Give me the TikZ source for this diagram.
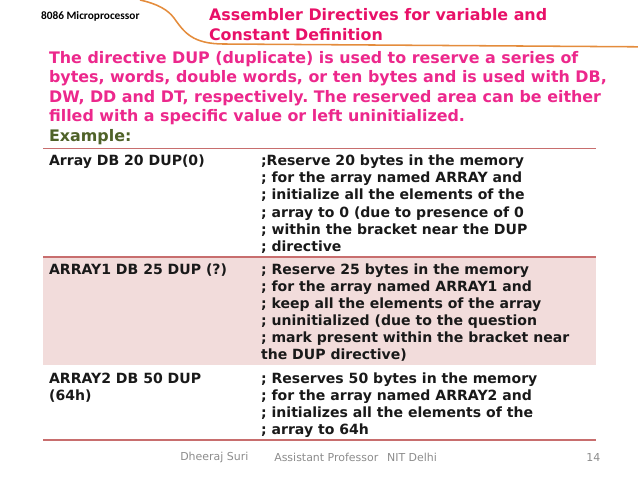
\documentclass[tikz,border=0pt]{standalone}
\usepackage{fontspec}
\setmainfont{DejaVu Sans}
\newfontfamily\logofont{Carlito}
\frenchspacing
\definecolor{titlepink}{RGB}{232,16,104}
\definecolor{bodypink}{RGB}{236,40,140}
\definecolor{examplegreen}{RGB}{79,98,40}
\definecolor{rulered}{RGB}{200,110,110}
\definecolor{bandpink}{RGB}{242,220,219}
\definecolor{curveorange}{RGB}{228,140,60}
\definecolor{footgray}{RGB}{140,140,140}
\tikzset{
  titletext/.style={anchor=north west,align=left,inner sep=0pt,text=titlepink,font=\fontsize{11.3}{14.3}\selectfont\bfseries},
  bodytext/.style={anchor=north west,align=left,inner sep=0pt,text=bodypink,font=\fontsize{11.3}{13.8}\selectfont\bfseries},
  celltext/.style={anchor=north west,align=left,inner sep=0pt,text=black!90,font=\fontsize{10}{12.15}\selectfont\bfseries},
  foottext/.style={anchor=west,inner sep=0pt,text=footgray,font=\fontsize{7.8}{10}\selectfont},
  tablerule/.style={draw=rulered,line width=1.1pt}
}
\begin{document}
\begin{tikzpicture}
\useasboundingbox (0,0) rectangle (15.95,-11.95);
% band behind the second row
\fill [bandpink] (1.08,-6.42) rectangle (14.9,-9.12);
% header curve
\draw [curveorange,line width=1.1pt] (3.5,0) .. controls (3.95,-0.1) and (4.2,-0.25) .. (4.35,-0.45) .. controls (4.6,-0.8) and (4.8,-1.1) .. (5.6,-1.1) -- (15.95,-1.17);
\node (logo) [anchor=west,inner sep=0pt,font=\logofont\fontsize{8.05}{9}\selectfont\bfseries] at (1.02,-0.4) {8086 Microprocessor};
\node (title) [titletext] at (5.22,-0.2) {Assembler Directives for variable and\\Constant Definition};
\node (intro) [bodytext] at (1.22,-1.28) {The directive DUP (duplicate) is used to reserve a series of\\bytes, words, double words, or ten bytes and is used with DB,\\DW, DD and DT, respectively. The reserved area can be either\\filled with a specific value or left uninitialized.\\\textcolor{examplegreen}{Example:}};
% table rules
\coordinate (ruleAl) at (1.08,-3.71);
\coordinate (ruleAr) at (14.9,-3.71);
\coordinate (ruleBl) at (1.08,-6.42);
\coordinate (ruleBr) at (14.9,-6.42);
\coordinate (ruleCl) at (1.08,-11);
\coordinate (ruleCr) at (14.9,-11);
\draw [tablerule] (ruleAl) -- (ruleAr);
\draw [tablerule] (ruleBl) -- (ruleBr);
\draw [tablerule] (ruleCl) -- (ruleCr);
% first row
\node (nameA) [celltext] at (1.22,-3.87) {Array DB 20 DUP(0)};
\node (noteA) [celltext] at (6.52,-3.87) {;Reserve 20 bytes in the memory\\; for the array named ARRAY and\\; initialize all the elements of the\\; array to 0 (due to presence of 0\\; within the bracket near the DUP\\; directive};
% second row
\node (nameB) [celltext] at (1.22,-6.58) {ARRAY1 DB 25 DUP (?)};
\node (noteB) [celltext] at (6.52,-6.58) {; Reserve 25 bytes in the memory\\; for the array named ARRAY1 and\\; keep all the elements of the array\\; uninitialized (due to the question\\; mark present within the bracket near\\the DUP directive)};
% third row
\node (nameC) [celltext] at (1.22,-9.31) {ARRAY2 DB 50 DUP\\(64h)};
\node (noteC) [celltext] at (6.52,-9.31) {; Reserves 50 bytes in the memory\\; for the array named ARRAY2 and\\; initializes all the elements of the\\; array to 64h};
% footer
\node (footA) [foottext] at (4.5,-11.44) {Dheeraj Suri};
\node (footB) [foottext] at (6.85,-11.44) {Assistant Professor};
\node (footC) [foottext] at (9.67,-11.44) {NIT Delhi};
\node (page) [foottext] at (14.65,-11.44) {14};
\end{tikzpicture}
\end{document}
